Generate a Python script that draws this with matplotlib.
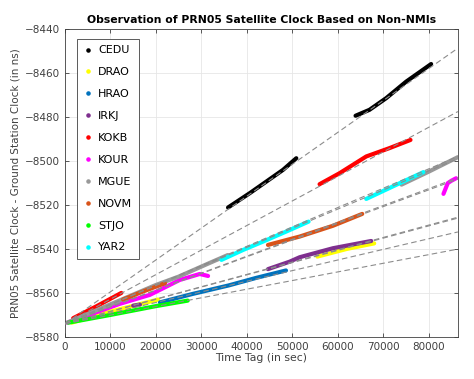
import matplotlib
matplotlib.use("Agg")
import matplotlib.pyplot as plt

stations = ["CEDU", "DRAO", "HRAO", "IRKJ", "KOKB", "KOUR", "MGUE", "NOVM", "STJO", "YAR2"]
colors = ["#000000", "#FFFF00", "#0072BD", "#7E2F8E", "#FF0000",
          "#FF00FF", "#999999", "#D95319", "#00FF00", "#00FFFF"]

cedu_t = [[35860, 40620, 44290, 47940, 50870], [63900, 66970, 70640, 75030, 80520]]
cedu_v = [[-8521.2, -8514.7, -8509.4, -8504.1, -8498.8], [-8479.5, -8476.8, -8471.5, -8464.0, -8456.0]]
drao_t = [[1500, 10000, 20500], [55500, 62000, 68000]]
drao_v = [[-8573.5, -8568.5, -8563.0], [-8543.5, -8540.0, -8537.5]]
hrao_t = [[20900, 28000, 36000, 42000, 48600]]
hrao_v = [[-8564.3, -8560.5, -8556.6, -8553.2, -8549.8]]
irkj_t = [[15000, 16500], [44640, 49410, 51600, 58920, 67350]]
irkj_v = [[-8565.8, -8565.3], [-8549.2, -8545.8, -8543.8, -8539.7, -8536.4]]
kokb_t = [[1800, 7000, 12400], [55990, 60390, 66250, 71370, 75980]]
kokb_v = [[-8571.5, -8566.0, -8560.0], [-8510.6, -8505.6, -8498.0, -8494.2, -8490.5]]
kour_t = [[500, 6000, 12000, 18660, 25250, 29640, 31470], [83230, 84180, 85000, 86010]]
kour_v = [[-8573.5, -8569.5, -8565.0, -8560.9, -8554.1, -8551.4, -8552.3], [-8515.0, -8510.1, -8509.0, -8507.9]]
mgue_t = [[500, 10000, 20000, 25000, 31800, 35800], [74000, 80000, 86400]]
mgue_v = [[-8573.5, -8565.2, -8556.4, -8552.6, -8546.4, -8542.8], [-8510.8, -8504.9, -8498.3]]
novm_t = [[12800, 17000, 22000], [44640, 51600, 58920, 65370]]
novm_v = [[-8563.0, -8559.5, -8555.6], [-8538.2, -8534.4, -8529.5, -8524.1]]
stjo_t = [[800, 10000, 20000, 27000]]
stjo_v = [[-8573.5, -8570.0, -8566.0, -8563.5]]
yar2_t = [[34410, 39150, 43540, 48680, 53580], [66250, 72840, 78830]]
yar2_v = [[-8545.0, -8540.5, -8536.7, -8532.1, -8527.6], [-8517.3, -8510.9, -8505.1]]

seg_t = [cedu_t, drao_t, hrao_t, irkj_t, kokb_t, kour_t, mgue_t, novm_t, stjo_t, yar2_t]
seg_v = [cedu_v, drao_v, hrao_v, irkj_v, kokb_v, kour_v, mgue_v, novm_v, stjo_v, yar2_v]

# fitted lines: value at t=0 and at t=86400
fit_t = [0, 86400]
fit_start = [-8574.0, -8574.0, -8574.0, -8574.0, -8574.0, -8574.0, -8574.0, -8574.0, -8574.0, -8574.0]
fit_end = [-8448.8, -8526.0, -8532.3, -8525.6, -8477.6, -8507.7, -8498.0, -8508.3, -8540.1, -8499.0]

fig = plt.figure(figsize=(4.74, 3.79), dpi=100)
ax = fig.add_axes([0.137, 0.111, 0.829, 0.813])

for name, c, ts, vs in zip(stations, colors, seg_t, seg_v):
    for t, v in zip(ts, vs):
        ax.plot(t, v, color=c, lw=3.0, solid_capstyle="round", zorder=2)
    ax.plot([], [], ".", color=c, ms=4.5, label=name)

for a, b in zip(fit_start, fit_end):
    ax.plot(fit_t, [a, b], "--", color="#8c8c8c", lw=0.8, dashes=(5, 3), zorder=3)

ax.set_xlim(0, 86400)
ax.set_ylim(-8580, -8440)
ax.set_xticks(range(0, 80001, 10000))
ax.set_xticklabels([str(x) for x in range(0, 80001, 10000)])
ax.set_yticks(range(-8580, -8439, 20))
ax.grid(True, color="#e6e6e6", lw=0.6)
ax.set_axisbelow(True)
ax.tick_params(direction="in", top=True, right=True, labelsize=7.5, colors="#404040",
               length=3, width=0.6)
for s in ax.spines.values():
    s.set_color("#404040")
    s.set_linewidth(0.6)

ax.set_title("Observation of PRN05 Satellite Clock Based on Non-NMIs",
             fontsize=7.8, fontweight="bold", pad=4)
ax.set_xlabel("Time Tag (in sec)", fontsize=7.8, color="#404040", labelpad=1)
ax.set_ylabel("PRN05 Satellite Clock - Ground Station Clock (in ns)", fontsize=7.5,
              color="#404040", labelpad=3)

leg = ax.legend(loc="upper left", bbox_to_anchor=(0.025, 0.975), fontsize=8,
                fancybox=False, edgecolor="#404040", framealpha=1,
                handlelength=0.7, handletextpad=0.6, labelspacing=1.07,
                borderpad=0.6, borderaxespad=0.2, markerscale=1.0)
leg.get_frame().set_linewidth(0.6)

plt.savefig("out.png", dpi=100)
